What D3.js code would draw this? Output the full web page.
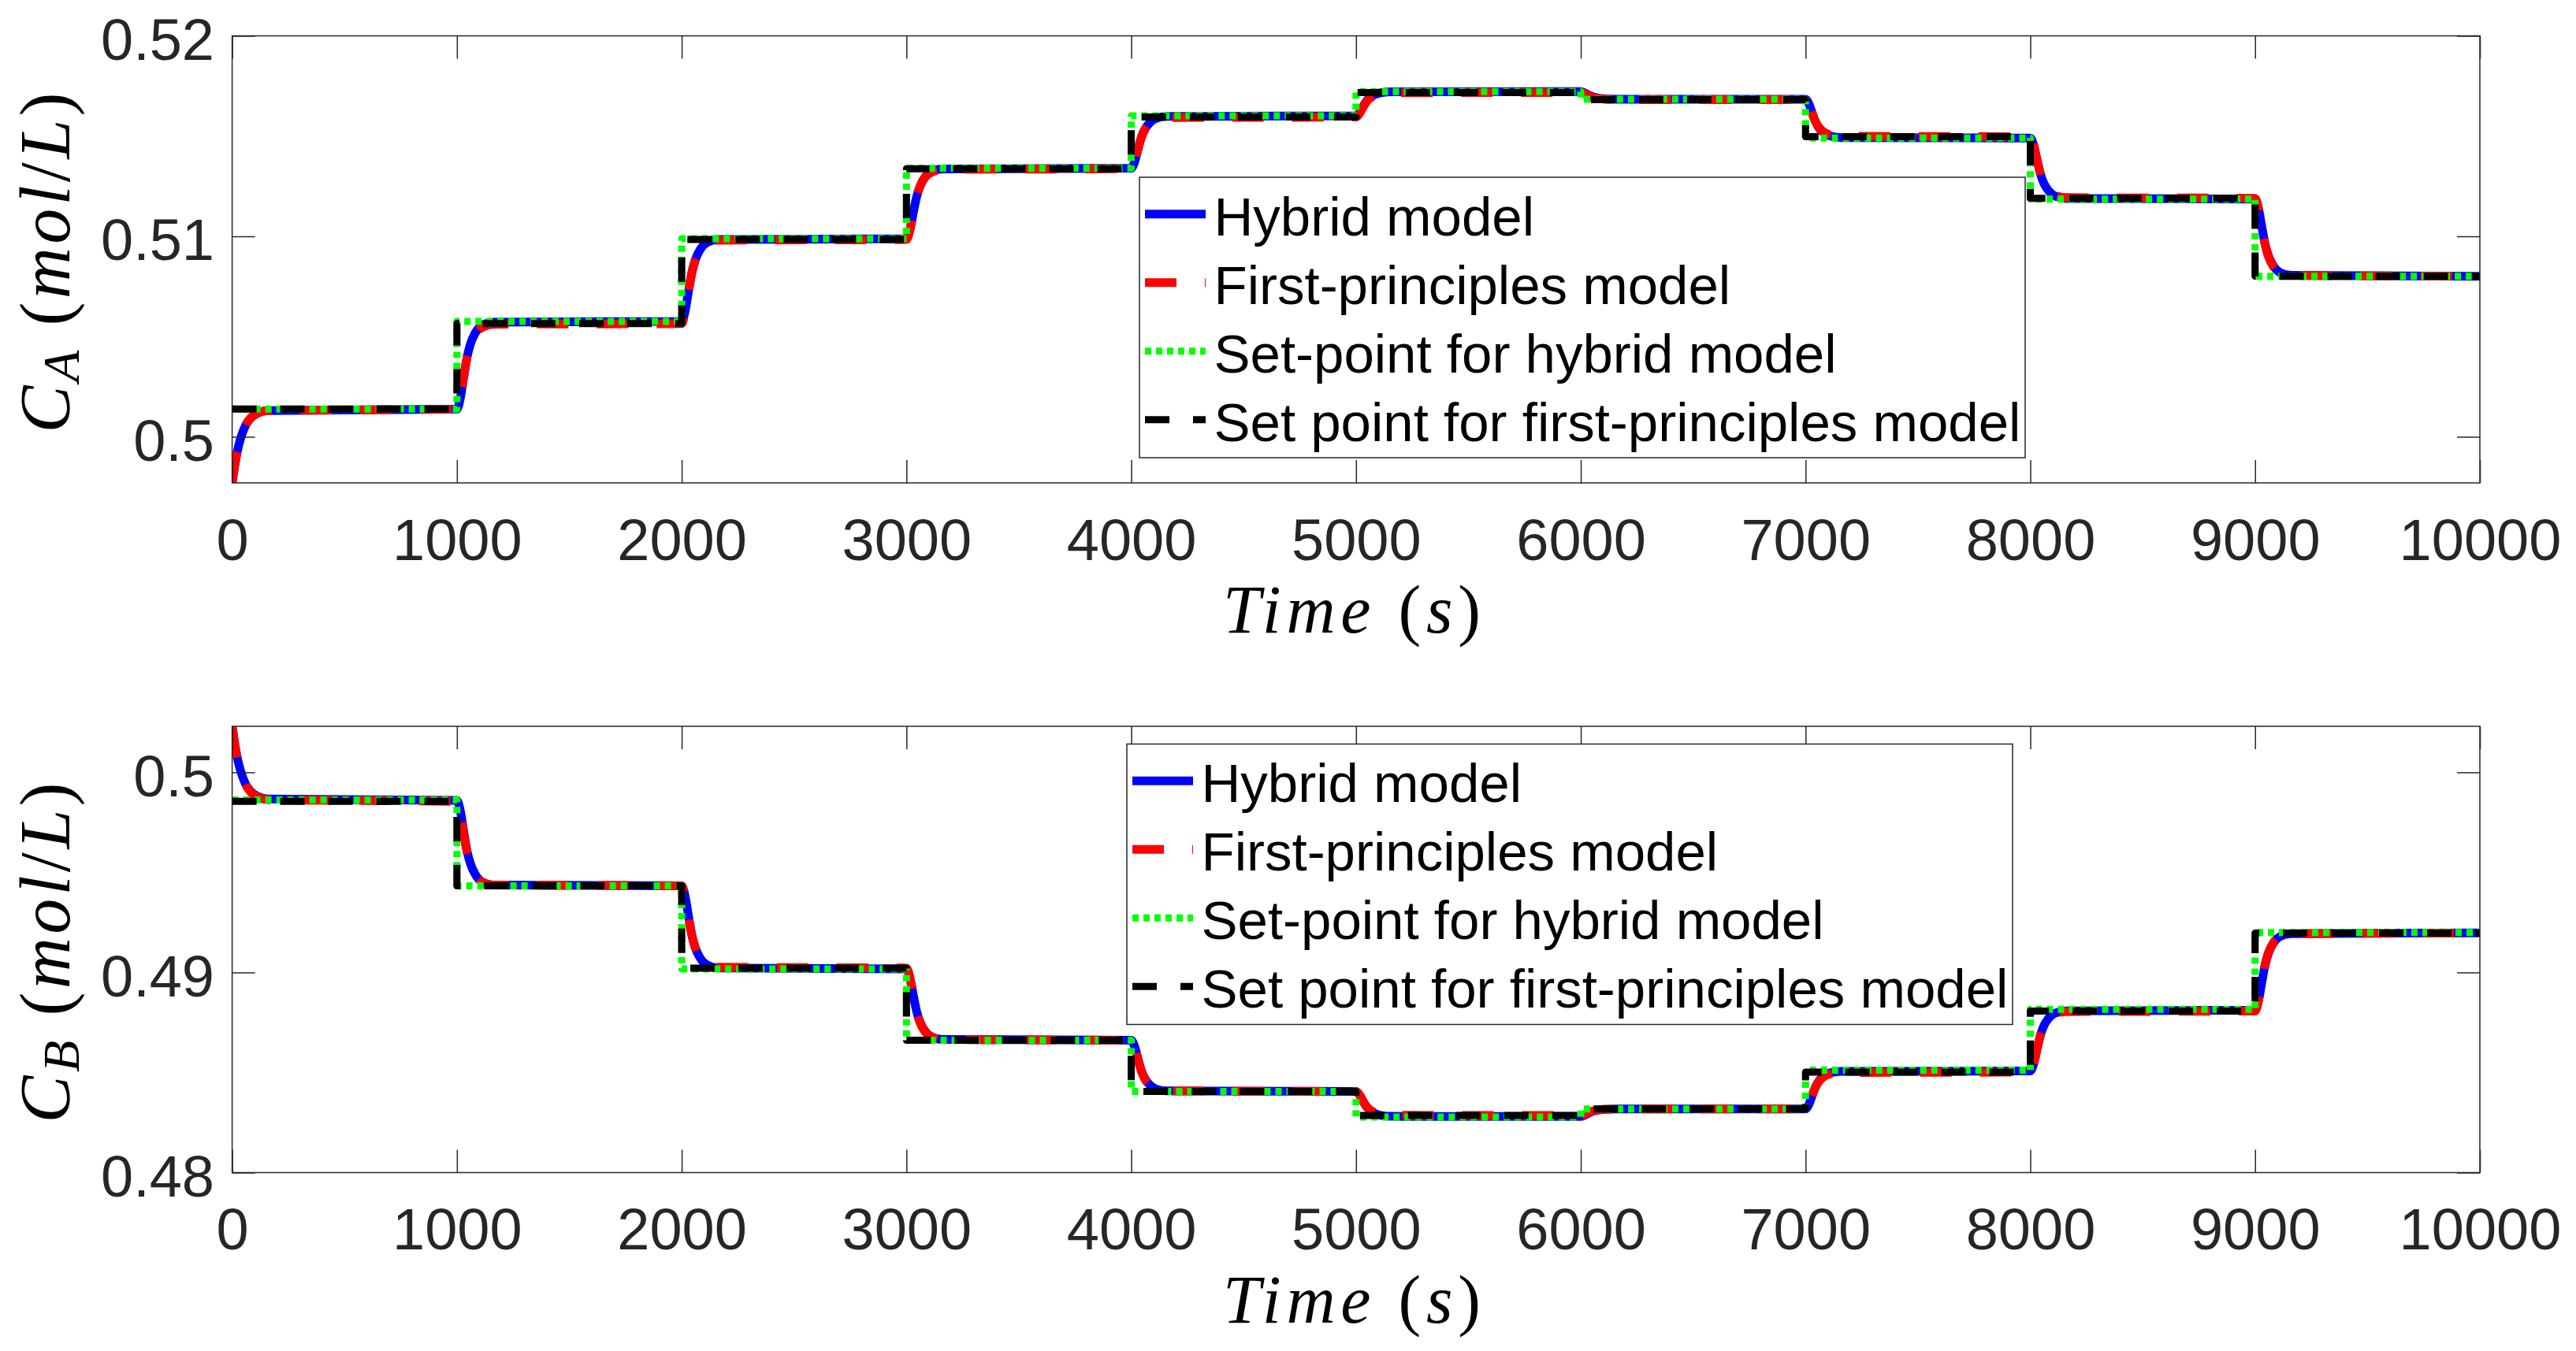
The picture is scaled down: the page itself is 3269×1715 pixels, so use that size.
<!DOCTYPE html>
<html>
<head>
<meta charset="utf-8">
<script src="https://cdn.jsdelivr.net/npm/d3@7"></script>
<style>
  body { margin: 0; background: #fff; }
</style>
</head>
<body>
<svg id="chart"></svg>
<script>
var svgWidth = 3269;
var svgHeight = 1715;

// sample times of the model responses (s)
var respTime = [
  0, 15, 30, 45, 60, 80, 110, 160,
  1000, 1015, 1030, 1045, 1060, 1080, 1110, 1160,
  2000, 2015, 2030, 2045, 2060, 2080, 2110, 2160,
  3000, 3015, 3030, 3045, 3060, 3080, 3110, 3160,
  4000, 4015, 4030, 4045, 4060, 4080, 4110, 4160,
  5000, 5015, 5030, 5045, 5060, 5080, 5110, 5160,
  6000, 6015, 6030, 6045, 6060, 6080, 6110, 6160,
  7000, 7015, 7030, 7045, 7060, 7080, 7110, 7160,
  8000, 8015, 8030, 8045, 8060, 8080, 8110, 8160,
  9000, 9015, 9030, 9045, 9060, 9080, 9110, 9160,
  10000
];

// C_A responses
var caHybrid = [
  0.4977, 0.49880, 0.49961, 0.50017, 0.50057, 0.50090, 0.50116, 0.50131,
  0.50138, 0.50191, 0.50296, 0.50396, 0.50462, 0.50515, 0.50554, 0.50572,
  0.50576, 0.50625, 0.50724, 0.50819, 0.50881, 0.50930, 0.50967, 0.50984,
  0.50988, 0.51030, 0.51115, 0.51196, 0.51248, 0.51291, 0.51322, 0.51336,
  0.51340, 0.51371, 0.51434, 0.51494, 0.51533, 0.51564, 0.51588, 0.51598,
  0.51601, 0.51616, 0.51645, 0.51672, 0.51691, 0.51705, 0.51716, 0.51721,
  0.51722, 0.51717, 0.51708, 0.51700, 0.51694, 0.51689, 0.51686, 0.51684,
  0.51684, 0.51661, 0.51614, 0.51570, 0.51540, 0.51517, 0.51500, 0.51492,
  0.51490, 0.51454, 0.51381, 0.51311, 0.51265, 0.51229, 0.51201, 0.51189,
  0.51186, 0.51140, 0.51047, 0.50959, 0.50901, 0.50855, 0.50820, 0.50805,
  0.50801
];
var caFirst = [
  0.4977, 0.49880, 0.49962, 0.50018, 0.50058, 0.50091, 0.50116, 0.50131,
  0.50138, 0.50194, 0.50300, 0.50394, 0.50458, 0.50509, 0.50544, 0.50561,
  0.50565, 0.50619, 0.50724, 0.50816, 0.50879, 0.50930, 0.50963, 0.50980,
  0.50984, 0.51030, 0.51118, 0.51196, 0.51249, 0.51291, 0.51319, 0.51333,
  0.51337, 0.51371, 0.51435, 0.51492, 0.51531, 0.51561, 0.51582, 0.51592,
  0.51595, 0.51611, 0.51641, 0.51668, 0.51687, 0.51701, 0.51711, 0.51716,
  0.51717, 0.51712, 0.51704, 0.51696, 0.51691, 0.51687, 0.51684, 0.51682,
  0.51682, 0.51658, 0.51612, 0.51571, 0.51543, 0.51521, 0.51506, 0.51499,
  0.51497, 0.51457, 0.51380, 0.51313, 0.51267, 0.51230, 0.51205, 0.51193,
  0.51190, 0.51139, 0.51042, 0.50957, 0.50898, 0.50851, 0.50820, 0.50805,
  0.50801
];

// C_B responses
var cbHybrid = [
  0.5023, 0.50119, 0.50038, 0.49982, 0.49941, 0.49908, 0.49882, 0.49867,
  0.49860, 0.49809, 0.49706, 0.49608, 0.49544, 0.49493, 0.49454, 0.49437,
  0.49433, 0.49383, 0.49284, 0.49188, 0.49126, 0.49076, 0.49039, 0.49022,
  0.49018, 0.48975, 0.48889, 0.48807, 0.48754, 0.48711, 0.48679, 0.48665,
  0.48661, 0.48630, 0.48569, 0.48510, 0.48472, 0.48441, 0.48418, 0.48408,
  0.48405, 0.48390, 0.48360, 0.48331, 0.48313, 0.48298, 0.48286, 0.48281,
  0.48280, 0.48285, 0.48294, 0.48302, 0.48308, 0.48313, 0.48316, 0.48318,
  0.48318, 0.48341, 0.48386, 0.48430, 0.48459, 0.48481, 0.48499, 0.48506,
  0.48508, 0.48544, 0.48617, 0.48687, 0.48733, 0.48769, 0.48797, 0.48808,
  0.48812, 0.48858, 0.48951, 0.49040, 0.49098, 0.49144, 0.49179, 0.49194,
  0.49198
];
var cbFirst = [
  0.5023, 0.50118, 0.50035, 0.49979, 0.49938, 0.49904, 0.49878, 0.49863,
  0.49855, 0.49800, 0.49695, 0.49602, 0.49539, 0.49488, 0.49454, 0.49437,
  0.49433, 0.49380, 0.49277, 0.49186, 0.49125, 0.49075, 0.49043, 0.49026,
  0.49022, 0.48975, 0.48885, 0.48805, 0.48751, 0.48708, 0.48679, 0.48665,
  0.48661, 0.48628, 0.48564, 0.48507, 0.48469, 0.48438, 0.48418, 0.48408,
  0.48405, 0.48389, 0.48359, 0.48333, 0.48315, 0.48301, 0.48291, 0.48286,
  0.48285, 0.48289, 0.48298, 0.48305, 0.48310, 0.48314, 0.48316, 0.48318,
  0.48318, 0.48342, 0.48388, 0.48428, 0.48456, 0.48478, 0.48493, 0.48500,
  0.48502, 0.48542, 0.48618, 0.48685, 0.48731, 0.48767, 0.48792, 0.48804,
  0.48807, 0.48858, 0.48955, 0.49041, 0.49100, 0.49146, 0.49178, 0.49193,
  0.49197
];

// set-points (step after each time)
var spTime = [0, 1000, 2000, 3000, 4000, 5000, 6000, 7000, 8000, 9000, 10000];
var caSpHybrid = [0.50138, 0.50576, 0.50988, 0.51340, 0.51601, 0.51722, 0.51684, 0.51490, 0.51186, 0.50801, 0.50801];
var caSpFirst  = [0.50138, 0.50565, 0.50984, 0.51337, 0.51595, 0.51717, 0.51682, 0.51497, 0.51190, 0.50801, 0.50801];
var cbSpHybrid = [0.49862, 0.49433, 0.49018, 0.48661, 0.48405, 0.48278, 0.48318, 0.48512, 0.48816, 0.49200, 0.49200];
var cbSpFirst  = [0.49855, 0.49433, 0.49022, 0.48661, 0.48405, 0.48285, 0.48318, 0.48502, 0.48807, 0.49197, 0.49197];

// axes ticks
var xTicks = [0, 1000, 2000, 3000, 4000, 5000, 6000, 7000, 8000, 9000, 10000];
var caTicks = [0.5, 0.51, 0.52];
var cbTicks = [0.48, 0.49, 0.5];

var legendLabels = [
  "Hybrid model",
  "First-principles model",
  "Set-point for hybrid model",
  "Set point for first-principles model"
];

var axisColor = "#262626";
var serif = "'Liberation Serif', 'Times New Roman', serif";
var sans = "'Liberation Sans', Arial, sans-serif";

// line styles: blue solid, red dashed, green dotted, black dashed
var styles = [
  { color: "#0000ff", width: 11, dash: null },
  { color: "#ff0000", width: 11, dash: "40,36" },
  { color: "#00ff00", width: 9, dash: "8,6" },
  { color: "#000000", width: 9, dash: "31,30" }
];

var svg = d3.select("#chart")
  .attr("width", svgWidth)
  .attr("height", svgHeight);

svg.append("rect")
  .attr("width", svgWidth)
  .attr("height", svgHeight)
  .attr("fill", "#fff");

var left = 294.6;
var right = 3147;

function pairs(times, values) {
  return times.map((t, i) => [t, values[i]]);
}

// stretch a label to a target length with letter-spacing, then centre it
// (measured from the glyph positions, so the spacing is counted)
function fitLabel(text, target) {
  var node = text.node();
  var n = node.getNumberOfChars();
  var w = node.getEndPositionOfChar(n - 1).x - node.getStartPositionOfChar(0).x;
  text.attr("letter-spacing", (target - w) / (n - 1));
  var x0 = node.getStartPositionOfChar(0).x;
  var x1 = node.getEndPositionOfChar(n - 1).x;
  text.attr("x", -(x0 + x1) / 2);
}

function drawPanel(p, idx) {
  var x = d3.scaleLinear().domain([0, 10000]).range([left, right]);
  var y = d3.scaleLinear().domain(p.yDomain).range([p.bottom, p.top]);

  // clip lines to the axes area
  svg.append("clipPath")
    .attr("id", "clip" + idx)
    .append("rect")
    .attr("x", left)
    .attr("y", p.top)
    .attr("width", right - left)
    .attr("height", p.bottom - p.top);

  var smooth = d3.line()
    .x(d => x(d[0]))
    .y(d => y(d[1]))
    .curve(d3.curveMonotoneX);

  var step = d3.line()
    .x(d => x(d[0]))
    .y(d => y(d[1]))
    .curve(d3.curveStepAfter);

  var lines = [
    smooth(pairs(respTime, p.hybrid)),
    smooth(pairs(respTime, p.first)),
    step(pairs(spTime, p.spHybrid)),
    step(pairs(spTime, p.spFirst))
  ];

  var plot = svg.append("g").attr("clip-path", `url(#clip${idx})`);
  lines.forEach(function(path, i) {
    plot.append("path")
      .attr("d", path)
      .attr("fill", "none")
      .attr("stroke", styles[i].color)
      .attr("stroke-width", styles[i].width)
      .attr("stroke-dasharray", styles[i].dash)
      .attr("stroke-linejoin", "round");
  });

  // axes with inward ticks on all four sides
  var bottomAxis = svg.append("g")
    .attr("transform", `translate(0, ${p.bottom})`)
    .call(d3.axisBottom(x).tickValues(xTicks).tickSizeInner(-29).tickSizeOuter(0)
      .tickPadding(45).tickFormat(d3.format("d")));
  var leftAxis = svg.append("g")
    .attr("transform", `translate(${left}, 0)`)
    .call(d3.axisLeft(y).tickValues(p.ticks).tickSizeInner(-29).tickSizeOuter(0)
      .tickPadding(22.6).tickFormat(d3.format("~g")));
  var topAxis = svg.append("g")
    .attr("transform", `translate(0, ${p.top})`)
    .call(d3.axisTop(x).tickValues(xTicks).tickSizeInner(-29).tickSizeOuter(0).tickFormat(""));
  var rightAxis = svg.append("g")
    .attr("transform", `translate(${right}, 0)`)
    .call(d3.axisRight(y).tickValues(p.ticks).tickSizeInner(-29).tickSizeOuter(0).tickFormat(""));

  [bottomAxis, leftAxis, topAxis, rightAxis].forEach(function(a) {
    a.select(".domain").remove();
    a.selectAll("line").attr("stroke", axisColor).attr("stroke-width", 1.5);
    a.selectAll("text")
      .attr("fill", axisColor)
      .attr("font-family", sans)
      .attr("font-size", 74);
  });
  leftAxis.selectAll("text").attr("dy", "0.4em");

  svg.append("rect")
    .attr("x", left)
    .attr("y", p.top)
    .attr("width", right - left)
    .attr("height", p.bottom - p.top)
    .attr("fill", "none")
    .attr("stroke", axisColor)
    .attr("stroke-width", 1.5);

  // x label
  var xg = svg.append("g")
    .attr("transform", `translate(${(left + right) / 2 - 2}, ${p.bottom + 190})`);
  var xlab = xg.append("text")
    .attr("font-family", serif)
    .attr("font-size", 86)
    .attr("fill", "#000");
  xlab.append("tspan").attr("font-style", "italic").text("Time");
  xlab.append("tspan").text(" (");
  xlab.append("tspan").attr("font-style", "italic").text("s");
  xlab.append("tspan").text(")");
  fitLabel(xlab, 327);

  // y label
  var cy = (p.top + p.bottom) / 2 + 2;
  var yg = svg.append("g")
    .attr("transform", `translate(88, ${cy}) rotate(-90)`);
  var ylab = yg.append("text")
    .attr("font-family", serif)
    .attr("font-size", 90)
    .attr("fill", "#000");
  ylab.append("tspan").attr("font-style", "italic").text("C");
  ylab.append("tspan").attr("font-style", "italic").attr("font-size", 66).attr("dy", 12).text(p.sub);
  ylab.append("tspan").attr("dy", -12).text(" (");
  ylab.append("tspan").attr("font-style", "italic").text("mol");
  ylab.append("tspan").text("/");
  ylab.append("tspan").attr("font-style", "italic").text("L");
  ylab.append("tspan").text(")");
  fitLabel(ylab, 432);

  // legend
  var lg = svg.append("g").attr("transform", `translate(${p.legend[0]}, ${p.legend[1]})`);
  lg.append("rect")
    .attr("width", 1124)
    .attr("height", 356)
    .attr("fill", "#fff")
    .attr("stroke", axisColor)
    .attr("stroke-width", 1.5);
  legendLabels.forEach(function(label, i) {
    var ry = 46.7 + i * 87;
    lg.append("line")
      .attr("x1", 7).attr("x2", 84)
      .attr("y1", ry).attr("y2", ry)
      .attr("stroke", styles[i].color)
      .attr("stroke-width", styles[i].width)
      .attr("stroke-dasharray", styles[i].dash);
    lg.append("text")
      .attr("x", 94.5)
      .attr("y", ry + 27)
      .attr("font-family", sans)
      .attr("font-size", 69)
      .attr("fill", "#000")
      .text(label);
  });
}

var panels = [
  { top: 45.5, bottom: 613, yDomain: [0.4977, 0.52], ticks: caTicks, sub: "A",
    hybrid: caHybrid, first: caFirst, spHybrid: caSpHybrid, spFirst: caSpFirst,
    legend: [1446, 225] },
  { top: 922, bottom: 1488.5, yDomain: [0.48, 0.5023], ticks: cbTicks, sub: "B",
    hybrid: cbHybrid, first: cbFirst, spHybrid: cbSpHybrid, spFirst: cbSpFirst,
    legend: [1430, 944.5] }
];

panels.forEach(drawPanel);
</script>
</body>
</html>
